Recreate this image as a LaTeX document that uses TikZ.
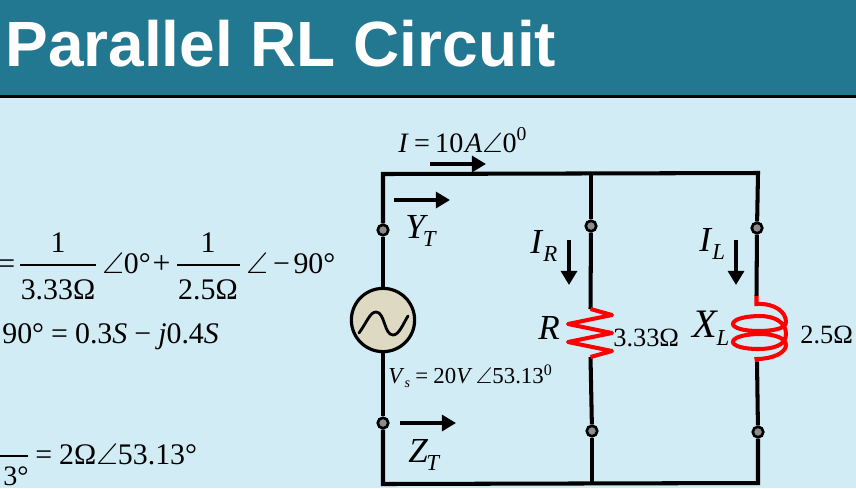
\documentclass[tikz,border=0pt]{standalone}
\usepackage{amssymb}
\usepackage{fontspec}
\setmainfont{Liberation Serif}
\newfontfamily\headfont{Liberation Sans}
\usetikzlibrary{arrows.meta, calc}
\definecolor{headcolor}{HTML}{217890}
\definecolor{slidecolor}{HTML}{D2ECF6}
\definecolor{sourcecolor}{HTML}{DED9C3}
\definecolor{termcolor}{HTML}{8C8C8C}
\definecolor{elemred}{HTML}{FF0000}
\newcommand{\fs}[1]{\fontsize{#1}{#1}\selectfont}
\newcommand{\lowsub}[1]{\raisebox{-5pt}{\fs{13}\textit{#1}}}

\begin{document}
\begin{tikzpicture}[
    x=0.2mm, y=-0.2mm,
    wire/.style={line width=2.3pt, black},
    elem/.style={line width=2.3pt, elemred},
    flow/.style={line width=2.5pt, black, -{Triangle[length=8pt, width=9pt]}},
    term/.style={circle, draw=black, fill=termcolor, line width=1.5pt, minimum size=6pt, inner sep=0pt},
    lab/.style={anchor=base west, inner sep=0pt, font=\fs{15}},
    biglab/.style={anchor=base west, inner sep=0pt, font=\fs{20}},
    eqn/.style={anchor=base west, inner sep=0pt, font=\fs{17}},
    eqnmid/.style={anchor=base, inner sep=0pt, font=\fs{17}},
]
\useasboundingbox (0,0) rectangle (856,488);

% Background and title
\fill[slidecolor] (0,0) rectangle (856,488);
\fill[headcolor] (0,0) rectangle (856,96);
\draw[line width=1.2pt, black] (0,96.5) -- (856,96.5);
\node[anchor=base west, inner sep=0pt, text=white, font=\headfont\bfseries\fs{36.4}] (title) at (5,66) {Parallel RL Circuit};

% Junctions
\coordinate (topleft) at (383,174);
\coordinate (topmid) at (591,173);
\coordinate (topright) at (758,173);
\coordinate (botleft) at (383,484);
\coordinate (botmid) at (592,483);
\coordinate (botright) at (758,483);
\coordinate (rtop) at (590.5,309);
\coordinate (rbot) at (590.5,357);
\coordinate (ltop) at (756.5,296);
\coordinate (lbot) at (757,362);

% Source and terminals
\node[circle, draw=black, fill=sourcecolor, line width=1.8pt, minimum size=36pt, inner sep=0pt] (source) at (383,320) {};
\node[term] (termYT) at (383,230) {};
\node[term] (termZT) at (383,423) {};
\node[term] (termRa) at (591,226) {};
\node[term] (termRb) at (592,431) {};
\node[term] (termLa) at (757,228) {};
\node[term] (termLb) at (758,432) {};

% Wires
\draw[wire] (source) -- (termYT);
\draw[wire] (termYT) -- (topleft) -- (topright) -- (termLa);
\draw[wire] (source) -- (termZT);
\draw[wire] (termZT) -- (botleft) -- (botright) -- (termLb);
\draw[wire] (topmid) -- (termRa);
\draw[wire] (termRa) -- (rtop);
\draw[wire] (rbot) -- (termRb);
\draw[wire] (termRb) -- (botmid);
\draw[wire] (termLa) -- (ltop);
\draw[wire] (lbot) -- (termLb);

% Sine in source
\draw[line width=1.6pt, line cap=round] (359,333) .. controls (367,322) and (370,312) .. (376,312)
    .. controls (385,312) and (384,335) .. (393,335) .. controls (399,335) and (403,324) .. (408,316);

% Resistor
\draw[elem, line join=round] (rtop) -- (612,315) -- (568,324) -- (612,333) -- (568,342) -- (612,351) -- (rbot);

% Inductor
\draw[elem] (ltop) -- (756.5,304) .. controls (775,303) and (786,312) .. (786,322)
    .. controls (786,329) and (772,331) .. (758,331) .. controls (744,331) and (733,328) .. (733,324)
    .. controls (733,319) and (746,316) .. (760,316) .. controls (774,316) and (786,322) .. (786,334)
    .. controls (786,346) and (772,349) .. (758,349) .. controls (744,349) and (733,346) .. (733,342)
    .. controls (733,337) and (746,334) .. (760,334) .. controls (774,334) and (786,338) .. (786,345)
    .. controls (786,353) and (772,359) .. (756.5,359) -- (lbot);

% Current arrows
\coordinate (Ia) at (430,164);
\coordinate (Ib) at (486,164);
\coordinate (Ya) at (394,200);
\coordinate (Yb) at (450,200);
\coordinate (Za) at (400,423);
\coordinate (Zb) at (456,423);
\coordinate (IRa) at (569,240);
\coordinate (IRb) at (569,285);
\coordinate (ILa) at (736,240);
\coordinate (ILb) at (736,285);
\draw[flow] (Ia) -- (Ib);
\draw[flow] (Ya) -- (Yb);
\draw[flow] (Za) -- (Zb);
\draw[flow] (IRa) -- (IRb);
\draw[flow] (ILa) -- (ILb);

% Circuit labels
\node[lab, font=\fs{16}] (Ilab) at (398,152) {\textit{I}\kern3pt=\kern3pt10\kern1pt\textit{A}$\angle$0\textsuperscript{0}};
\node[biglab] (YTlab) at (405,238) {\textit{Y}\kern-3pt\lowsub{T}};
\node[biglab] (ZTlab) at (408,462) {\textit{Z}\kern-1pt\lowsub{T}};
\node[biglab] (IRlab) at (530,253) {\textit{I}\lowsub{R}};
\node[biglab] (ILlab) at (699,251) {\textit{I}\lowsub{L}};
\node[biglab] (Rlab) at (538,339) {\textit{R}};
\node[biglab, font=\fs{23}] (XLlab) at (692,337) {\textit{X}\kern-1pt\lowsub{L}};
\node[lab] (Rval) at (613,346) {3.33Ω};
\node[lab] (Lval) at (800,343) {2.5Ω};
\node[lab, font=\fs{13}] (Vlab) at (388,383) {\textit{V}\raisebox{-2.5pt}{\fs{8}\textit{s}}\kern3pt=\kern3pt20\textit{V}\kern2pt$\angle$53.13\textsuperscript{0}};

% Equations
\node[eqn] (eqA) at (-2,273) {=};
\node[eqnmid] (numA) at (58,252) {1};
\node[eqnmid] (denA) at (58,299) {3.33Ω};
\draw[line width=0.7pt] (20,265) -- (96,265);
\node[eqn] (eqB) at (102,273) {$\angle$0°\kern1pt\fs{18}+};
\node[eqnmid] (numB) at (208,252) {1};
\node[eqnmid] (denB) at (208,299) {2.5Ω};
\draw[line width=0.7pt] (177,265) -- (240,265);
\node[eqn] (eqC) at (246,273) {$\angle$\kern3pt−\kern2pt90°};
\node[eqn] (eqD) at (2,343) {90°\kern4pt=\kern4pt0.3\textit{S}\kern4pt−\kern4pt\textit{j}0.4\textit{S}};
\draw[line width=0.7pt] (0,456) -- (28,456);
\node[eqn] (eqE) at (35,464) {=\kern4pt2Ω$\angle$53.13°};
\node[eqn, font=\fs{16}] (eqF) at (3,485) {3°};
\end{tikzpicture}
\end{document}
